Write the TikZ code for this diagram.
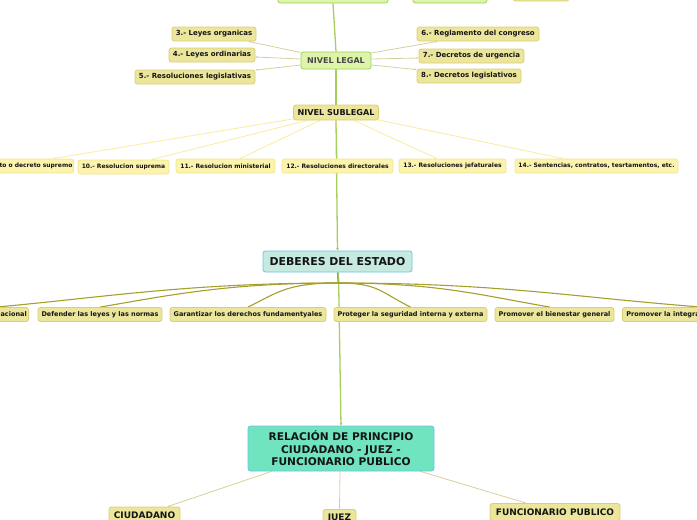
\documentclass[tikz,border=0pt]{standalone}
\usepackage{fontspec}
\setmainfont{DejaVu Sans}
\usetikzlibrary{arrows.meta}
\pgfdeclarelayer{bg}
\pgfsetlayers{bg,main}
\definecolor{lgfill}{HTML}{DCF5A8}
\definecolor{lgdraw}{HTML}{9FD05A}
\definecolor{yfill}{HTML}{EBE69B}
\definecolor{ydraw}{HTML}{D9CF74}
\definecolor{syfill}{HTML}{FCF3AE}
\definecolor{sydraw}{HTML}{F3E68C}
\definecolor{mainline}{HTML}{A6D05C}
\definecolor{tanline}{HTML}{D7D09C}
\definecolor{lyline}{HTML}{FAEC9E}
\definecolor{olive}{HTML}{A5A02C}
\definecolor{debfill}{HTML}{C6EADF}
\definecolor{bluedraw}{HTML}{6CC3EA}
\definecolor{relfill}{HTML}{70E3BF}
\tikzset{
  base/.style={rounded corners=2.5pt, line width=0.8pt, inner sep=0pt, align=center, text=black!92},
  legalbox/.style={base, fill=lgfill, draw=lgdraw},
  ybox/.style={base, fill=yfill, draw=ydraw, minimum height=14pt, font=\bfseries\fontsize{7}{8}\selectfont},
  sybox/.style={base, fill=syfill, draw=sydraw, minimum height=14pt, font=\bfseries\fontsize{6}{7}\selectfont},
  dybox/.style={base, fill=yfill, draw=ydraw, minimum height=14pt, font=\bfseries\fontsize{6.5}{7.5}\selectfont},
  botbox/.style={base, fill=yfill, draw=ydraw, minimum height=17pt, font=\bfseries\fontsize{9}{10}\selectfont},
  mainconn/.style={draw=mainline, line width=1.3pt},
  mainarrow/.style={mainconn, -{Stealth[length=3pt,width=3pt]}},
  tanconn/.style={draw=tanline, line width=0.8pt, -{Stealth[length=2.5pt,width=2pt]}},
  lyconn/.style={draw=lyline, line width=0.8pt, -{Stealth[length=2.5pt,width=2pt]}},
  olconn/.style={draw=olive, line width=1.1pt},
}
\begin{document}
\begin{tikzpicture}[x=1pt,y=-1pt]
\useasboundingbox (0,0) rectangle (697,520);
\clip (0,0) rectangle (697,520);
% top boxes (mostly out of view)
\node[legalbox, minimum width=110pt, minimum height=20pt] (top1) at (333,-7) {};
\node[legalbox, minimum width=74pt, minimum height=20pt] (top2) at (450,-7) {};
\node[base, fill=yfill, draw=ydraw, minimum width=56pt, minimum height=20pt] (top3) at (541,-9) {};

% levels
\node[legalbox, minimum width=70pt, minimum height=17pt, font=\bfseries\fontsize{8}{9}\selectfont, text=black!72] (legal) at (336,60.5) {NIVEL LEGAL};
\node[base, fill=yfill, draw=ydraw, minimum width=85pt, minimum height=15pt, font=\bfseries\fontsize{8.1}{9}\selectfont] (sub) at (336,112.5) {NIVEL SUBLEGAL};
\node[base, fill=debfill, draw=bluedraw, minimum width=149pt, minimum height=21pt, font=\bfseries\fontsize{10.9}{12}\selectfont] (deb) at (337.5,261.5) {DEBERES DEL ESTADO};
\node[base, fill=relfill, draw=bluedraw, minimum width=186pt, minimum height=45pt, font=\bfseries\fontsize{10.6}{12.5}\selectfont] (rel) at (341,448.5) {RELACIÓN DE PRINCIPIO\\CIUDADANO - JUEZ -\\FUNCIONARIO PUBLICO};

% legal children
\node[ybox, minimum width=84pt] (a3) at (214,34) {3.- Leyes organicas};
\node[ybox, minimum width=86pt] (a4) at (212,55) {4.- Leyes ordinarias};
\node[ybox, minimum width=120pt] (a5) at (195,77) {5.- Resoluciones legislativas};
\node[ybox, minimum width=122pt] (a6) at (478,34) {6.- Reglamento del congreso};
\node[ybox, minimum width=105pt] (a7) at (471.5,56) {7.- Decretos de urgencia};
\node[ybox, minimum width=104pt] (a8) at (469,76) {8.- Decretos legislativos};

% sublegal children
\node[sybox, minimum width=120pt, anchor=east] (b9) at (74,166) {9.- Reglamento o decreto supremo};
\node[sybox, minimum width=91pt] (b10) at (123.5,167) {10.- Resolucion suprema};
\node[sybox, minimum width=99pt] (b11) at (225.5,166) {11.- Resolucion ministerial};
\node[sybox, minimum width=111pt] (b12) at (337.5,166) {12.- Resoluciones directorales};
\node[sybox, minimum width=107pt] (b13) at (452.5,166) {13.- Resoluciones jefaturales};
\node[sybox, minimum width=163pt] (b14) at (596.5,166) {14.- Sentencias, contratos, tesrtamentos, etc.};

% deberes children
\node[dybox, minimum width=118pt, anchor=east] (c1) at (29,314.5) {Defender la soberania nacional};
\node[dybox, minimum width=158pt, anchor=west] (c6) at (622,314.5) {Promover la integracion latinoamericana};
\node[dybox, minimum width=124pt] (c2) at (100,314.5) {Defender las leyes y las normas};
\node[dybox, minimum width=156pt] (c3) at (248,314.5) {Garantizar los derechos fundamentyales};
\node[dybox, minimum width=153pt] (c4) at (410.5,314.5) {Proteger la seguridad interna y externa};
\node[dybox, minimum width=119pt] (c5) at (554.5,314.5) {Promover el bienestar general};

% bottom children
\node[botbox, minimum width=71pt] (d1) at (144.5,515.5) {CIUDADANO};
\node[botbox, minimum width=33pt] (d2) at (339.5,518) {JUEZ};
\node[botbox, minimum width=130pt] (d3) at (555,512) {FUNCIONARIO PUBLICO};

\coordinate (hub) at (338,283);

\begin{pgfonlayer}{bg}
  % legal connectors
  \draw[tanconn] ([yshift=8pt]legal.west) -- ([xshift=-8pt]a3.south east);
  \draw[tanconn] ([yshift=1.5pt]legal.west) -- ([yshift=-2pt]a4.east);
  \draw[tanconn] ([yshift=-4.5pt]legal.west) -- ([yshift=-0.5pt]a5.north east);
  \draw[tanconn] ([yshift=7.5pt]legal.east) -- ([xshift=21pt]a6.south west);
  \draw[tanconn] ([yshift=1.5pt]legal.east) -- ([yshift=-2pt]a7.west);
  \draw[tanconn] ([yshift=-4.5pt]legal.east) -- ([yshift=-1pt]a8.north west);
  % sublegal connectors
  \draw[lyconn] ([yshift=1.5pt]sub.south west) -- ([xshift=-21pt]b9.north east);
  \draw[lyconn] ([xshift=14pt]sub.south west) -- ([xshift=28pt]b10.north);
  \draw[lyconn] ([xshift=27pt]sub.south west) -- ([xshift=14.5pt]b11.north);
  \draw[lyconn] (sub.south) -- (b12.north);
  \draw[lyconn] ([xshift=-25pt]sub.south east) -- ([xshift=-15.5pt]b13.north);
  \draw[lyconn] ([xshift=-3pt,yshift=1pt]sub.south east) -- ([xshift=-33.5pt]b14.north);
  % main spine
  \draw[mainconn] (top1.south) -- (legal.north);
  \draw[mainconn] (legal.south) -- (sub.north);
  \draw[mainarrow] (sub.south) -- (deb.north);
  \draw[mainarrow] ([xshift=1pt]deb.south) -- (rel.north);
  % deberes curves
  \draw[olconn] (deb.south) -- (hub);
  \draw[olconn] (hub) .. controls +(-150,0) and +(110,-10) .. ([xshift=-33pt]c1.north east);
  \draw[olconn] (hub) .. controls +(-110,0) and +(70,-12) .. (c2.north);
  \draw[olconn] (hub) .. controls +(-50,0) and +(30,-15) .. (c3.north);
  \draw[olconn] (hub) .. controls +(40,0) and +(-30,-15) .. (c4.north);
  \draw[olconn] (hub) .. controls +(100,0) and +(-70,-12) .. ([xshift=-4.5pt]c5.north);
  \draw[olconn] (hub) .. controls +(160,0) and +(-130,-10) .. ([xshift=80pt]c6.north west);
  % bottom connectors
  \draw[tanconn] ([xshift=24pt]rel.south west) -- ([xshift=23pt]d1.north);
  \draw[tanconn] ([xshift=-1pt]rel.south) -- (d2.north);
  \draw[tanconn] ([xshift=-14pt]rel.south east) -- ([xshift=-29pt]d3.north);
\end{pgfonlayer}
\end{tikzpicture}
\end{document}
